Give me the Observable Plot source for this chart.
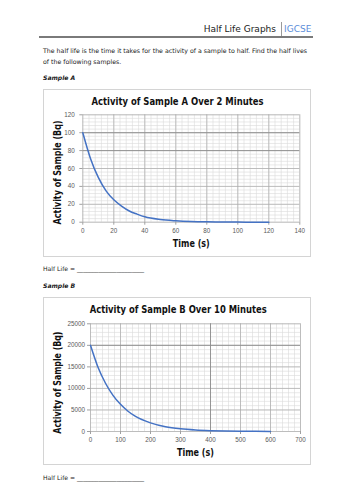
<!DOCTYPE html>
<html><head><meta charset="utf-8">
<script src="https://cdn.jsdelivr.net/npm/d3@7"></script>
<script src="https://cdn.jsdelivr.net/npm/@observablehq/plot@0.6"></script>
<style>
html,body{margin:0;padding:0;background:#fff}
body{width:353px;height:500px;position:relative;overflow:hidden;font-family:"DejaVu Sans",sans-serif;color:#1a1a1a}
.abs{position:absolute;white-space:nowrap;line-height:1}
.box{position:absolute;left:43px;width:266px;height:166px;border:1px solid #d4d4d4;background:#fff}
.box svg{position:absolute;left:0;top:0}
.box svg text{font-family:"Liberation Sans",sans-serif}
.box svg .xtitle text,.box svg .ytitle text,.box svg .ctitle text{font-family:"DejaVu Sans",sans-serif}
</style></head><body>
<div class="abs" style="right:77px;top:25px;font-size:9px;color:#222">Half Life Graphs</div>
<div class="abs" style="left:281px;top:22px;width:1px;height:15px;background:#9a9a9a"></div>
<div class="abs" style="left:284px;top:25px;font-size:9px;color:#5b8dd9">IGCSE</div>
<div class="abs" style="left:39px;top:36px;width:274px;height:1.5px;background:#7a7a7a"></div>
<div class="abs" style="left:43px;top:48px;font-size:6.25px">The half life is the time it takes for the activity of a sample to half. Find the half lives</div>
<div class="abs" style="left:43px;top:58.5px;font-size:6.25px">of the following samples.</div>
<div class="abs" style="left:43px;top:74.5px;font-size:6.1px;font-weight:bold;font-style:italic">Sample A</div>
<div class="box" id="boxA" style="top:89px"></div>
<div class="abs" style="left:43px;top:266px;font-size:6.1px">Half Life = ______________________</div>
<div class="abs" style="left:43px;top:282.5px;font-size:6.1px;font-weight:bold;font-style:italic">Sample B</div>
<div class="box" id="boxB" style="top:297px"></div>
<div class="abs" style="left:43px;top:475px;font-size:6.1px">Half Life = ______________________</div>
<script>
// Sample A
const titleA = "Activity of Sample A Over 2 Minutes";
const timeA = [0, 5, 10, 15, 20, 25, 30, 35, 40, 50, 60, 70, 80, 90, 100, 110, 120];
const activityA = [100, 71, 50, 35, 25, 18, 12.5, 9, 6, 3, 1.6, 0.8, 0.4, 0.2, 0.1, 0.05, 0.02];
const xTicksA = [0, 20, 40, 60, 80, 100, 120, 140];
const yTicksA = [0, 20, 40, 60, 80, 100, 120];

// Sample B
const titleB = "Activity of Sample B Over 10 Minutes";
const timeB = [0, 25, 50, 75, 100, 125, 150, 200, 250, 300, 350, 400, 450, 500, 550, 600];
const activityB = [20000, 14900, 11200, 8400, 6300, 4700, 3500, 2000, 1100, 620, 350, 200, 110, 60, 35, 20];
const xTicksB = [0, 100, 200, 300, 400, 500, 600, 700];
const yTicksB = [0, 5000, 10000, 15000, 20000, 25000];

const xLabel = "Time (s)";
const yLabel = "Activity of Sample (Bq)";

function chart(cfg) {
  const data = cfg.time.map((t, i) => ({t, a: cfg.activity[i]}));
  const xStep = cfg.xTicks[1] - cfg.xTicks[0];
  const yStep = cfg.yTicks[1] - cfg.yTicks[0];
  const xMax = cfg.xTicks[cfg.xTicks.length - 1];
  const yMax = cfg.yTicks[cfg.yTicks.length - 1];
  const minorX = d3.range(0, xMax + 1e-9, xStep / 5);
  const minorY = d3.range(0, yMax + 1e-9, yStep / 5);
  const svg = Plot.plot({
    width: 266, height: 166,
    marginLeft: cfg.ml, marginRight: cfg.mr, marginTop: cfg.mt, marginBottom: cfg.mb,
    style: {background: "transparent", overflow: "visible"},
    x: {domain: [0, xMax]},
    y: {domain: [0, yMax]},
    marks: [
      Plot.gridX(minorX, {stroke: "#dadada", strokeOpacity: 1, strokeWidth: 0.6}),
      Plot.gridY(minorY, {stroke: "#dadada", strokeOpacity: 1, strokeWidth: 0.6}),
      Plot.gridX(cfg.xTicks, {stroke: "#ababab", strokeOpacity: 1, strokeWidth: 0.7}),
      Plot.gridY(cfg.yTicks, {stroke: "#ababab", strokeOpacity: 1, strokeWidth: 0.7}),
      Plot.gridX(cfg.darkX, {stroke: "#8a8a8a", strokeOpacity: 1, strokeWidth: 0.8}),
      Plot.gridY(cfg.darkY, {stroke: "#8a8a8a", strokeOpacity: 1, strokeWidth: 0.8}),
      Plot.axisX({ticks: cfg.xTicks, tickSize: 3, tickPadding: 3.5, label: null, fontSize: 6.3, color: "#595959", stroke: "#a0a0a0", tickFormat: d => String(d)}),
      Plot.axisY({ticks: cfg.yTicks, tickSize: 3, tickPadding: cfg.ypad, label: null, fontSize: 6.3, color: "#595959", stroke: "#a0a0a0", tickFormat: d => String(d)}),
      Plot.line(data, {x: "t", y: "a", stroke: "#4472c4", strokeWidth: 1.5, curve: "monotone-x"}),
      Plot.text([cfg.title], {frameAnchor: "top", dx: cfg.tdx, dy: cfg.tdy, lineAnchor: "middle", textAnchor: "middle", text: d => d, fontSize: 10.5, fontWeight: "bold", fill: "#111", className: "ctitle"}),
      Plot.text([xLabel], {frameAnchor: "bottom", dy: cfg.xdy, lineAnchor: "middle", textAnchor: "middle", text: d => d, fontSize: 10, fontWeight: "bold", fill: "#111", className: "xtitle"}),
      Plot.text([yLabel], {frameAnchor: "left", dx: cfg.ydx, dy: cfg.ydy, rotate: -90, lineAnchor: "middle", textAnchor: "middle", text: d => d, fontSize: 10, fontWeight: "bold", fill: "#111", className: "ytitle"})
    ]
  });
  const fit = (cls, len) => svg.querySelectorAll("." + cls + " text").forEach(t => {
    t.setAttribute("textLength", len);
    t.setAttribute("lengthAdjust", "spacingAndGlyphs");
  });
  fit("ctitle", cfg.tlen);
  fit("xtitle", cfg.xlen);
  fit("ytitle", cfg.ylen);
  return svg;
}

document.getElementById("boxA").appendChild(chart({title: titleA, time: timeA, activity: activityA, xTicks: xTicksA, yTicks: yTicksA,
  darkX: [], darkY: [80, 100], ml: 38.3, mr: 10.7, mt: 24.3, mb: 34.3, ypad: 5,
  tdx: -13.8, tdy: -13.3, tlen: 172, xdy: 21.5, xlen: 37, ydx: -25, ydy: 4, ylen: 104}));
document.getElementById("boxB").appendChild(chart({title: titleB, time: timeB, activity: activityB, xTicks: xTicksB, yTicks: yTicksB,
  darkX: [400], darkY: [20000], ml: 46, mr: 10, mt: 25.3, mb: 33, ypad: 2.5,
  tdx: -17.3, tdy: -14.3, tlen: 177, xdy: 21.7, xlen: 37, ydx: -32.3, ydy: 5, ylen: 102}));
</script>
</body></html>
